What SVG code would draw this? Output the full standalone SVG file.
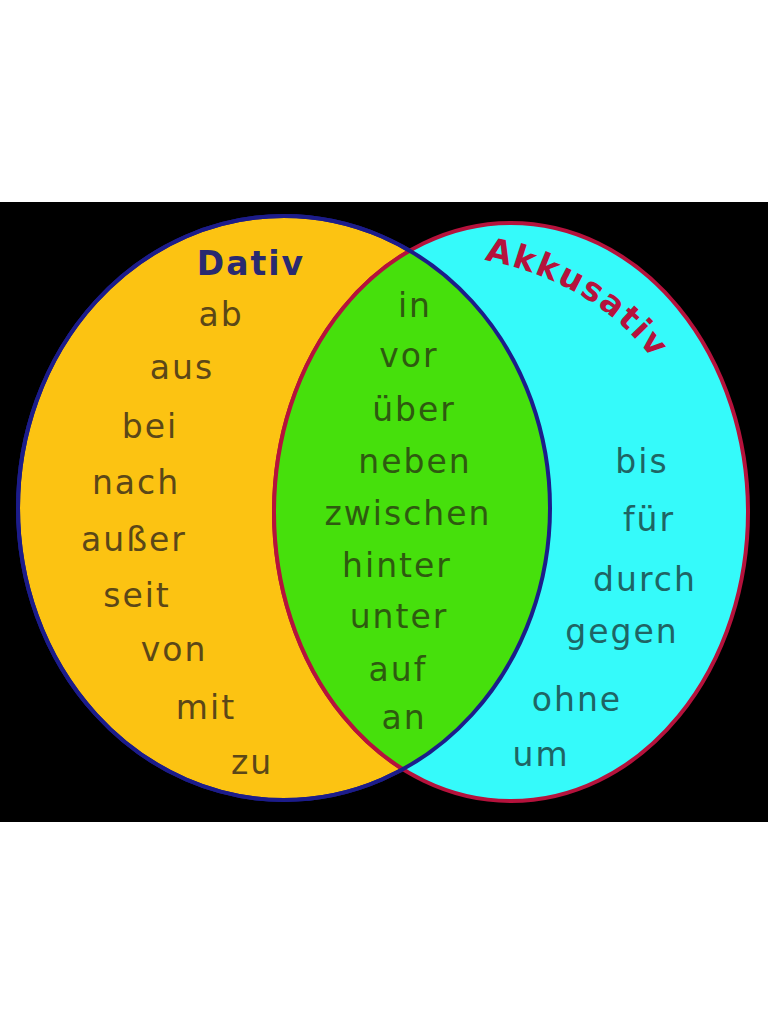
<svg xmlns="http://www.w3.org/2000/svg" width="768" height="1024" viewBox="0 0 768 1024">
<style>
text{font-family:"DejaVu Sans","Open Sans",sans-serif;font-size:33px;letter-spacing:2px;text-anchor:middle}
.d{fill:#5b4718}.m{fill:#2e5a10}.a{fill:#1f6464}
</style>
<defs>
<clipPath id="cl"><ellipse cx="284" cy="508" rx="266" ry="292"/></clipPath>
<path id="ap" d="M 484 260 Q 612 285 672 388"/>
</defs>
<rect width="768" height="1024" fill="#fff"/>
<rect x="0" y="202" width="768" height="620" fill="#000"/>
<g id="dativ">
<ellipse cx="284" cy="508" rx="266" ry="292" fill="#fcc312" stroke="#1c1c8a" stroke-width="4"/>
</g>
<g id="akkusativ">
<ellipse cx="511" cy="512" rx="237" ry="289" fill="#35fafa" stroke="#b5123c" stroke-width="4"/>
</g>
<g id="both">
<ellipse cx="511" cy="512" rx="237" ry="289" fill="#46e00c" clip-path="url(#cl)"/>
<ellipse cx="511" cy="512" rx="237" ry="289" fill="none" stroke="#b5123c" stroke-width="4" clip-path="url(#cl)"/>
<ellipse cx="284" cy="508" rx="266" ry="292" fill="none" stroke="#1c1c8a" stroke-width="4"/>
</g>
<g id="labels">
<text x="251" y="275" font-weight="bold" font-size="34" fill="#2a2a70">Dativ</text>
<text font-weight="bold" fill="#b5123c" font-size="30" style="text-anchor:start"><textPath href="#ap">Akkusativ</textPath></text>
<text class="d" x="221" y="326">ab</text>
<text class="d" x="182" y="379">aus</text>
<text class="d" x="150" y="438">bei</text>
<text class="d" x="136" y="494">nach</text>
<text class="d" x="134" y="551">außer</text>
<text class="d" x="137" y="607">seit</text>
<text class="d" x="174" y="661">von</text>
<text class="d" x="206" y="719">mit</text>
<text class="d" x="252" y="774">zu</text>
<text class="m" x="415" y="317">in</text>
<text class="m" x="409" y="367">vor</text>
<text class="m" x="414" y="421">über</text>
<text class="m" x="415" y="473">neben</text>
<text class="m" x="408" y="525">zwischen</text>
<text class="m" x="397" y="577">hinter</text>
<text class="m" x="399" y="628">unter</text>
<text class="m" x="398" y="681">auf</text>
<text class="m" x="404" y="729">an</text>
<text class="a" x="642" y="473">bis</text>
<text class="a" x="649" y="531">für</text>
<text class="a" x="645" y="591">durch</text>
<text class="a" x="622" y="643">gegen</text>
<text class="a" x="577" y="711">ohne</text>
<text class="a" x="541" y="766">um</text>
</g>
</svg>
